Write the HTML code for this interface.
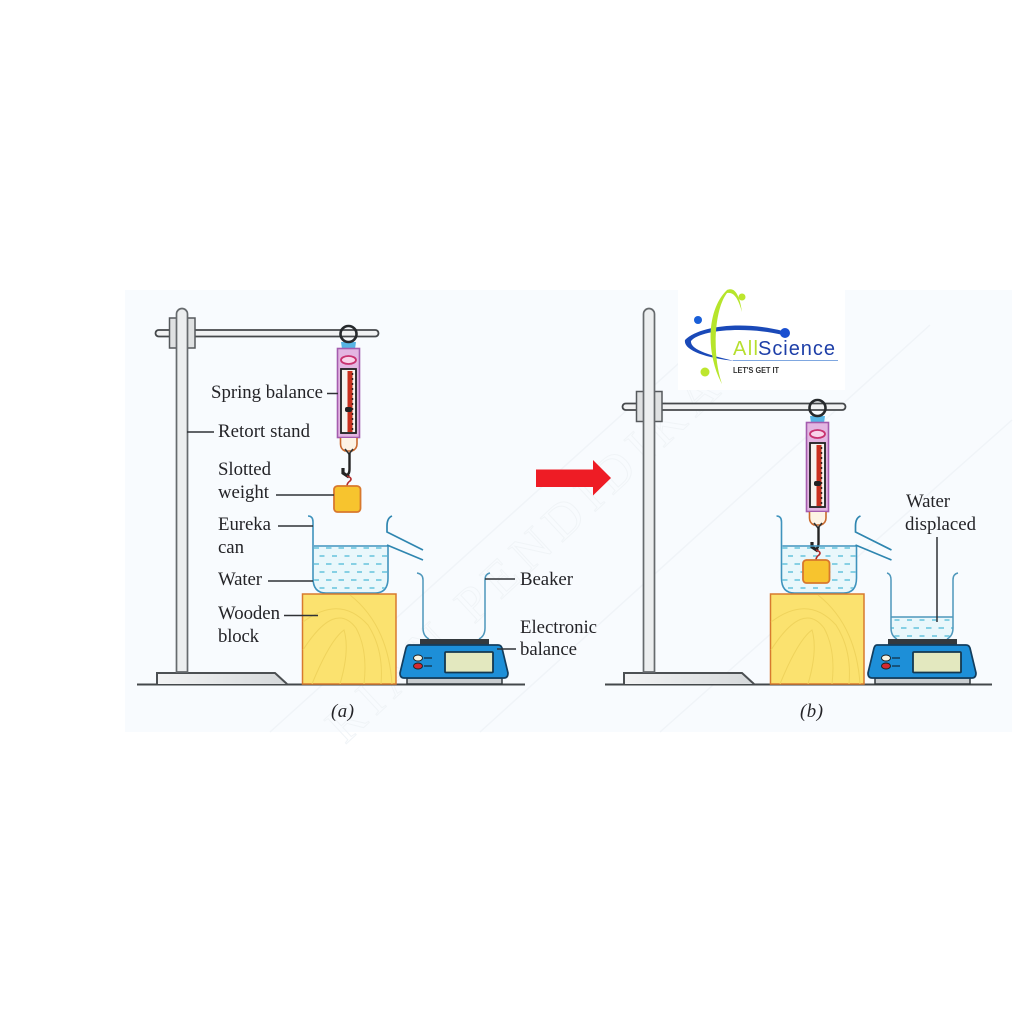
<!DOCTYPE html>
<html><head><meta charset="utf-8"><style>
html,body{margin:0;padding:0;background:#fff}
svg{display:block}
text{font-family:"Liberation Serif",serif;font-size:18.8px;fill:#242428}
</style></head><body>
<svg width="1024" height="1024" viewBox="0 0 1024 1024" xmlns="http://www.w3.org/2000/svg">
<defs>
<linearGradient id="baseG" x1="0" x2="1" y1="0" y2="0"><stop offset="0" stop-color="#f2f3f4"/><stop offset="1" stop-color="#d5d8da"/></linearGradient>
<g id="stand">
  <path d="M157 684V673H275L287 684" fill="url(#baseG)" stroke="#4c5053" stroke-width="2"/>
  <rect x="155.500" y="330" width="223" height="6.500" rx="3.200" fill="#f1f2f3" stroke="#45484b" stroke-width="1.800"/>
  <rect x="169.500" y="318" width="25.500" height="30" fill="#dfe1e2" stroke="#55595c" stroke-width="1.500"/>
  <path d="M176.500 672V314a5.500 5.500 0 0 1 11 0V672Z" fill="#eceeef" stroke="#666a6d" stroke-width="1.700"/>
</g>
<g id="spring">
  <path d="M342 349L341 342H356L355 349Z" fill="#57b5e4"/>
  <circle cx="348.500" cy="334" r="8" fill="none" stroke="#26292c" stroke-width="2.600"/>
  <rect x="337.500" y="348.500" width="22" height="89" fill="#e3b6e2" stroke="#a45cae" stroke-width="1.600"/>
  <ellipse cx="348.500" cy="360" rx="7.500" ry="4" fill="#f8d4ea" stroke="#c8326f" stroke-width="1.800"/>
  <rect x="341" y="369" width="15" height="64" fill="#f7f3ee" stroke="#1f1f1f" stroke-width="1.800"/>
  <rect x="347.500" y="371" width="5" height="61" fill="#c9301e"/>
  <path d="M352.500 373V431" stroke="#3a2020" stroke-width="1.500" stroke-dasharray="2 3"/>
  <rect x="345" y="407" width="7" height="5" rx="2" fill="#222"/>
  <path d="M340.500 438V444Q340.500 449 345 451H352Q357 449 357 444V438" fill="#fdf3e4" stroke="#c9692d" stroke-width="1.600"/>
  <path d="M345 449L349 454L353 449" fill="none" stroke="#333" stroke-width="1.600"/>
  <path d="M349.500 453V469Q349.500 475 346 475" fill="none" stroke="#242424" stroke-width="2.400"/>
  <path d="M343 468L343 473L349 477" fill="none" stroke="#242424" stroke-width="3.200"/>
  <path d="M347 476Q353 478 350 481Q347 483 347 486" fill="none" stroke="#b22c2c" stroke-width="1.600"/>
</g>
<g id="can">
  <path d="M308 516Q313 516 313 522V578Q313 593 326 593H375Q388 593 388 578V546H314" fill="none" stroke="#3f93bd" stroke-width="1.600"/>
  <path d="M392 516Q387 518 387 526V532L423 550M387 545L423 560" fill="none" stroke="#2f86b0" stroke-width="1.700"/>
</g>
<g id="wood">
  <rect x="302.500" y="594" width="93.500" height="90" fill="#fbe26f" stroke="#d77a2e" stroke-width="1.500"/>
  <g fill="none" stroke="#efd35c" stroke-width="1">
    <path d="M303 622Q340 594 368 625Q384 650 381 684"/>
    <path d="M303 650Q335 600 356 628Q368 650 364 684"/>
    <path d="M312 684Q330 640 344 630Q350 650 340 684"/>
    <path d="M350 595Q388 625 392 684"/>
  </g>
</g>
<g id="scale">
  <rect x="420" y="639" width="69" height="5.500" fill="#33393d"/>
  <rect x="407" y="678" width="95" height="6" fill="#c9cdd0" stroke="#33393d" stroke-width="1.500"/>
  <path d="M409 645H498Q501 645 502 648L508 673Q508 678 504 678H404Q400 678 400 673L406 648Q407 645 409 645Z" fill="#1d8fd8" stroke="#133e5e" stroke-width="1.700"/>
  <rect x="445" y="652" width="48" height="20.500" rx="1" fill="#e3e8bf" stroke="#15384f" stroke-width="1.800"/>
  <ellipse cx="418" cy="658" rx="4.500" ry="3" fill="#f6f4e4" stroke="#222" stroke-width="1"/>
  <ellipse cx="418" cy="666" rx="4.500" ry="3" fill="#d52b32" stroke="#222" stroke-width="1"/>
  <path d="M424 658H432M424 666H432" stroke="#15537c" stroke-width="2"/>
</g>
<pattern id="ripple" width="12.500" height="16" patternUnits="userSpaceOnUse">
  <path d="M1 4H6.500" stroke="#4fbcd8" stroke-width="1.300"/>
  <path d="M7 12H12" stroke="#4fbcd8" stroke-width="1.300"/>
</pattern>
<g id="water">
  <path d="M314 547H387V578Q387 592 375 592H326Q314 592 314 578Z" fill="#e9f7fb"/>
  <path d="M314 547H387V578Q387 592 375 592H326Q314 592 314 578Z" fill="url(#ripple)"/>
</g>
</defs>

<rect width="1024" height="1024" fill="#fff"/>
<rect x="125" y="290" width="887" height="442" fill="#f8fbfe"/>

<!-- watermark -->
<g fill="none" stroke="#f0f4f8" stroke-width="1.500">
  <path d="M270 732L760 290M480 732L930 325M660 732L1012 420"/>
</g>
<g transform="translate(345 745) rotate(-43)">
  <text x="0" y="0" style="font-size:50px;fill:none;stroke:#f0f4f7;stroke-width:1" textLength="560" lengthAdjust="spacing">RIAN PENDIDIKAN</text>
</g>

<!-- ground -->
<path d="M137 684.500H525M605 684.500H992" stroke="#44484b" stroke-width="2"/>

<!-- panel a -->
<use href="#stand"/>
<use href="#spring"/>
<rect x="334" y="486" width="26.500" height="26" rx="3.500" fill="#f7c42e" stroke="#d8782d" stroke-width="1.800"/>
<use href="#water"/>
<use href="#can"/>
<use href="#wood"/>
<path d="M417 573Q423 574 423 580V628Q423 636 429 639M490 573Q485 574 485 580V628Q485 636 479 639" fill="none" stroke="#4e97bb" stroke-width="1.500"/>
<use href="#scale"/>

<!-- panel a leaders -->
<g stroke="#2f3236" stroke-width="1.500" fill="none">
  <path d="M327 393.500H338M187 432H214M276 495H334M278 526H313M268 581H313M284 615.500H318M485 579H515M497 649H516"/>
</g>

<!-- panel b -->
<g transform="translate(467 0)">
  <path d="M157 684V673H275L287 684" fill="url(#baseG)" stroke="#4c5053" stroke-width="2"/>
  <rect x="155.500" y="403.500" width="223" height="6.500" rx="3.200" fill="#f1f2f3" stroke="#45484b" stroke-width="1.800"/>
  <rect x="169.500" y="391.500" width="25.500" height="30" fill="#dfe1e2" stroke="#55595c" stroke-width="1.500"/>
  <path d="M176.500 672V314a5.500 5.500 0 0 1 11 0V672Z" fill="#eceeef" stroke="#666a6d" stroke-width="1.700"/>
</g>
<use href="#water" x="468.500"/>
<use href="#spring" x="469" y="74"/>
<rect x="803" y="560" width="26.500" height="23" rx="3.500" fill="#f7c42e" stroke="#d8782d" stroke-width="1.800"/>
<use href="#can" x="468.500"/>
<use href="#wood" x="468"/>
<path d="M891.500 617H953V628Q953 638 946 639H898Q891.500 638 891.500 628Z" fill="#e9f7fb"/>
<path d="M891.500 617H953V628Q953 638 946 639H898Q891.500 638 891.500 628Z" fill="url(#ripple)"/>
<path d="M887 573Q891 574 891 580V628Q891 636 897 639M958 573Q953 574 953 580V628Q953 636 947 639M891 617H953" fill="none" stroke="#4e97bb" stroke-width="1.500"/>
<use href="#scale" x="468"/>
<path d="M937 537V622" stroke="#2f3236" stroke-width="1.500"/>

<!-- arrow -->
<path d="M536 469.500H593V460L611 478L593 495.500V487H536Z" fill="#ee1c25"/>

<!-- labels -->
<text x="211" y="398" textLength="112">Spring balance</text>
<text x="218" y="437" textLength="92">Retort stand</text>
<text x="218" y="475" textLength="53">Slotted</text>
<text x="218" y="498" textLength="51">weight</text>
<text x="218" y="530" textLength="53">Eureka</text>
<text x="218" y="553" textLength="26">can</text>
<text x="218" y="585" textLength="44">Water</text>
<text x="218" y="619" textLength="62">Wooden</text>
<text x="218" y="642" textLength="41">block</text>
<text x="520" y="585" textLength="53">Beaker</text>
<text x="520" y="633" textLength="77">Electronic</text>
<text x="520" y="655" textLength="57">balance</text>
<text x="906" y="507" textLength="44">Water</text>
<text x="905" y="530" textLength="71">displaced</text>
<text x="331" y="717" font-style="italic" textLength="23">(a)</text>
<text x="800" y="717" font-style="italic" textLength="23">(b)</text>

<!-- logo -->
<rect x="678" y="289" width="167" height="101" fill="#fff"/>
<path d="M783 331C745 321 700 325 685 340C683 350 705 358 735 361C712 356 690 350 691 341C700 330 745 326 783 335Z" fill="#1a49b8"/>
<path d="M733 360.500H838" stroke="#7fa7e0" stroke-width="1"/>
<path d="M722 384C706 355 706 310 727 290C736 286 740 298 742 312C738 298 734 292 727 293C714 310 712 355 722 384Z" fill="#b6e52b"/>
<circle cx="785" cy="333" r="5" fill="#1a4fd0"/>
<circle cx="698" cy="320" r="4" fill="#1a5fd8"/>
<circle cx="742" cy="297" r="3.500" fill="#bde62e"/>
<circle cx="705" cy="372" r="4.500" fill="#bde62e"/>
<text x="733" y="355" style='font-family:"Liberation Sans",sans-serif;font-size:20px;fill:#b6df2f' textLength="25">All</text>
<text x="758" y="355" style='font-family:"Liberation Sans",sans-serif;font-size:20px;fill:#1e3fa8' textLength="77">Science</text>
<text x="733" y="373" style='font-family:"Liberation Sans",sans-serif;font-size:8.500px;font-weight:bold;fill:#333' textLength="46" lengthAdjust="spacingAndGlyphs">LET'S GET IT</text>
</svg>
</body></html>
